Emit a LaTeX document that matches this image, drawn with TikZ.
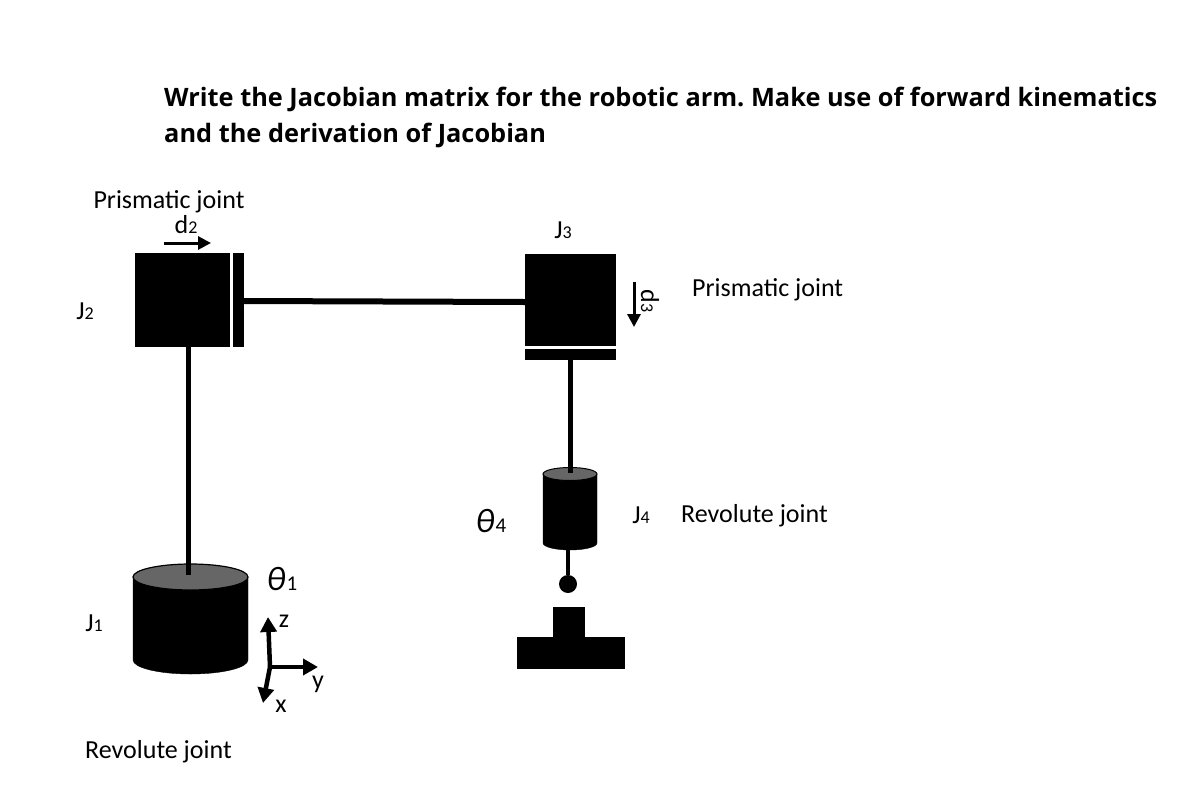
\documentclass[tikz,border=0pt]{standalone}
\usepackage{fontspec}
\setmainfont{Carlito}
\newfontfamily\titlefont{Open Sans}
\usetikzlibrary{arrows.meta}
\newcommand{\smalldigit}[1]{{\fontsize{18}{18}\selectfont #1}}
\newcommand{\thetadigit}[1]{{\fontsize{21}{21}\selectfont\kern1pt #1}}
\tikzset{
  blockbox/.style={fill=black,inner sep=0pt},
  rodline/.style={line width=5pt},
  motion/.style={line width=3pt,-{Triangle[length=13pt,width=13pt]}},
  axisline/.style={line width=4.5pt,-{Triangle[length=15pt,width=16pt]}},
  lbl/.style={font=\fontsize{26}{30}\selectfont,inner sep=0pt},
  ttl/.style={font=\titlefont\fontsize{25.35}{36}\selectfont\bfseries,inner sep=0pt,align=left}
}
\begin{document}
\frenchspacing
\begin{tikzpicture}[x=1pt,y=-1pt]
\useasboundingbox (0,0) rectangle (1190,790);
\node[ttl,anchor=west] (title) at (164,117) {Write the Jacobian matrix for the robotic arm. Make use of forward kinematics\\and the derivation of Jacobian};
% joint 2
\node[blockbox,minimum width=95pt,minimum height=94pt] (j2) at (182.5,300) {};
\node[blockbox,minimum width=11pt,minimum height=94pt] (j2plate) at (238.5,300) {};
% joint 3
\node[blockbox,minimum width=91pt,minimum height=92pt] (j3) at (570.5,300) {};
\node[blockbox,minimum width=91pt,minimum height=11pt] (j3plate) at (570.5,354.5) {};
% joint 1
\filldraw (133,577) -- (133,660) arc[start angle=180,end angle=360,x radius=57.5pt,y radius=14pt] -- (248,577) -- cycle;
\filldraw[fill=black!60,draw=black,line width=1.2pt] (190.5,577) ellipse (57.5pt and 13pt);
\coordinate (j1top) at (188,575);
% joint 4
\filldraw (543,474) -- (543,543) arc[start angle=180,end angle=360,x radius=27pt,y radius=7pt] -- (597,474) -- cycle;
\filldraw[fill=black!60,draw=black,line width=1pt] (570,474) ellipse (27pt and 6.5pt);
\coordinate (j4top) at (570,473);
\coordinate (j4low) at (568,548);
\node[circle,fill=black,inner sep=0pt,minimum size=18pt] (ball) at (568,584) {};
% gripper
\node[blockbox,minimum width=32pt,minimum height=31pt] (stem) at (569,622.5) {};
\node[blockbox,minimum width=108pt,minimum height=32pt] (base) at (571,653) {};
% links
\draw[rodline] (j1top) -- (j1top |- j2.south);
\draw[line width=6pt] ([yshift=-1pt]j2plate.east) -- ([yshift=-2pt]j3.west);
\draw[rodline] (j4top) -- (j4top |- j3plate.south);
\draw[line width=4.5pt] (j4low) -- (ball);
% motion arrows
\coordinate (d2a) at (164,243);
\coordinate (d2b) at (211,243);
\draw[motion] (d2a) -- (d2b);
\coordinate (d3a) at (634,282);
\coordinate (d3b) at (634,327);
\draw[motion] (d3a) -- (d3b);
% frame
\coordinate (org) at (270,667);
\coordinate (zend) at (268,617);
\coordinate (yend) at (318,667);
\coordinate (xend) at (263,703);
\draw[axisline] (org) -- (zend);
\draw[axisline] (org) -- (yend);
\draw[axisline] (org) -- (xend);
% labels
\node[lbl] (l1) at (169,201.5) {Prismatic joint};
\node[lbl] (l2) at (186,225) {d\smalldigit{2}};
\node[lbl] (l3) at (85,311) {J\smalldigit{2}};
\node[lbl] (l4) at (563,230) {J\smalldigit{3}};
\node[lbl,rotate=-90] (l5) at (650,301) {d\smalldigit{3}};
\node[lbl,anchor=west] (l6) at (692,290) {Prismatic joint};
\node[lbl,font=\fontsize{34}{34}\selectfont] (l7) at (491,521) {\textit{θ}\thetadigit{4}};
\node[lbl] (l8) at (641,515) {J\smalldigit{4}};
\node[lbl,anchor=west] (l9) at (681,516) {Revolute joint};
\node[lbl,font=\fontsize{34}{34}\selectfont] (l10) at (282,579) {\textit{θ}\thetadigit{1}};
\node[lbl] (l11) at (94,623) {J\smalldigit{1}};
\node[lbl] (l12) at (284,621) {z};
\node[lbl] (l13) at (318,684) {y};
\node[lbl] (l14) at (281,706) {x};
\node[lbl,anchor=west] (l15) at (85,752) {Revolute joint};
\end{tikzpicture}
\end{document}
